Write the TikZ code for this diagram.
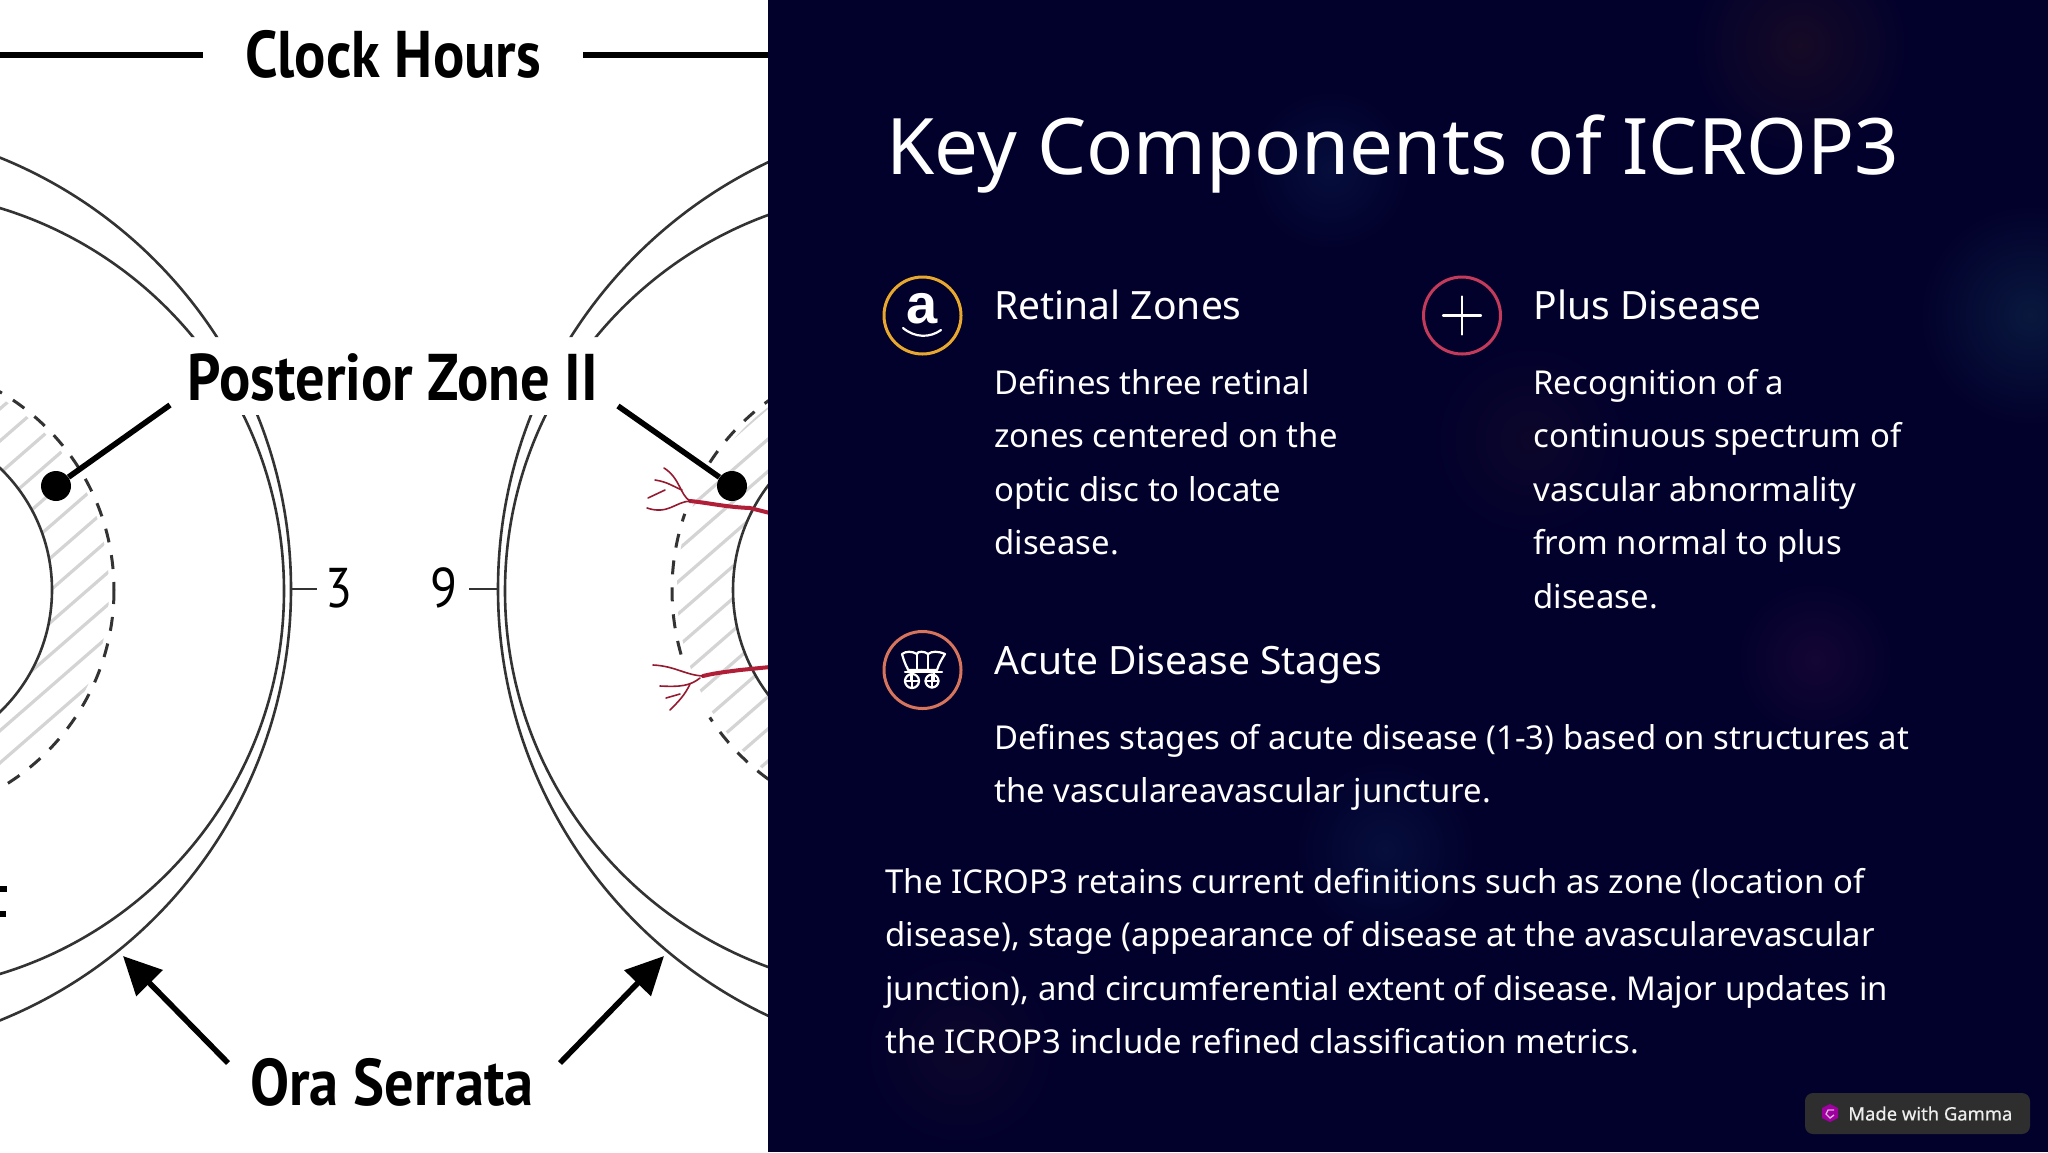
\documentclass[tikz,border=0pt]{standalone}
\usepackage{fontspec}
\setmainfont{Noto Sans}
\newfontfamily\diagfont[FakeStretch=0.885]{PT Sans}
\newfontfamily\iconfont{Liberation Sans}
\newfontfamily\badgefont[FakeBold=0.5]{Noto Sans}
\usetikzlibrary{arrows.meta}
\frenchspacing
\definecolor{panelnavy}{RGB}{2,1,44}
\definecolor{glowbrown}{RGB}{22,10,38}
\definecolor{glowblue}{RGB}{9,24,62}
\definecolor{glowpurple}{RGB}{20,5,52}
\definecolor{glowdeep}{RGB}{6,14,60}
\definecolor{glowdim}{RGB}{12,6,42}
\definecolor{vesselred}{RGB}{176,30,56}
\definecolor{hatchgray}{RGB}{212,212,212}
\definecolor{ringgold}{RGB}{232,168,46}
\definecolor{ringrose}{RGB}{196,58,90}
\definecolor{ringcoral}{RGB}{214,116,92}
\tikzset{
  eyeline/.style={line width=1.3pt,color=black!80},
  leaderline/.style={line width=2.8pt,color=black},
  hatchline/.style={line width=1.6pt,color=hatchgray},
  zonedash/.style={line width=1.5pt,color=black!80,dash pattern=on 7pt off 6.5pt},
  vesselmain/.style={line width=2pt,color=vesselred,line cap=round},
  vesseltip/.style={line width=0.8pt,color=vesselred!85!black,line cap=round},
  diaglabel/.style={font=\diagfont\bfseries\fontsize{33}{33}\selectfont,inner sep=0pt,anchor=base},
  hourlabel/.style={font=\diagfont\fontsize{28}{28}\selectfont,inner sep=0pt,anchor=base},
  headtext/.style={font=\fontsize{19.5}{24}\selectfont,color=white,inner sep=0pt,anchor=base west},
  bodytext/.style={font=\fontsize{16.44}{26.7}\selectfont,color=white,inner sep=0pt,anchor=north west,align=left},
  iconring/.style={circle,draw,line width=1.5pt,minimum size=38.5pt,inner sep=0pt},
  iconline/.style={line width=1.1pt,color=white,line cap=round,line join=round},
}
\begin{document}
\begin{tikzpicture}[x=0.5pt,y=-0.5pt]
\useasboundingbox (0,0) rectangle (2048,1152);
\fill[white] (0,0) rectangle (768,1152);

%Hatched zone, left eye
\begin{scope}
\clip (-115,590) circle (224);
\foreach \h in {14,51,...,1000} \draw[hatchline] (\h,300) -- ++(-600,522);
\end{scope}
\fill[white] (-117,590) circle (169);
\draw[eyeline] (-117,590) circle (169);
\draw[zonedash] (-115,590) circle (229);

%Hatched zone, right eye
\begin{scope}
\clip (906,590) circle (229);
\foreach \h in {891,928,...,1500} \draw[hatchline] (\h,300) -- ++(-600,522);
\end{scope}
\fill[white] (906,590) circle (173);
\draw[eyeline] (906,590) circle (173);
\draw[zonedash] plot[domain=126:147,samples=20] ({906+234*cos(\x)},{590+234*sin(\x)});
\draw[zonedash] plot[domain=164:199,samples=30] ({906+234*cos(\x)},{590+234*sin(\x)});
\draw[zonedash] plot[domain=213:236,samples=20] ({906+234*cos(\x)},{590+234*sin(\x)});

%Curve Lines, ora serrata and ring, broken behind the label
\begin{scope}
\clip (0,0) rectangle (768,337) (0,415) rectangle (768,1152);
\draw[eyeline] (-174,589) circle (465);
\draw[eyeline] (-116,591) circle (400);
\draw[eyeline] (970,589) circle (472);
\draw[eyeline] (905,591) circle (400);
\end{scope}

%Vessels, right eye
\draw[vesselmain] (770,513) -- (750,508) .. controls (725,507) and (710,503) .. (690,501);
\draw[vesseltip] (690,501) .. controls (675,502) and (668,515) .. (647,508);
\draw[vesseltip] (690,501) .. controls (680,495) and (680,478) .. (664,468);
\draw[vesseltip] (682,490) .. controls (672,486) and (668,482) .. (655,480);
\draw[vesseltip] (665,490) -- (648,498);
\draw[vesselmain] (770,667) -- (740,670) .. controls (725,672) and (715,673) .. (703,676);
\draw[vesseltip] (703,676) .. controls (685,675) and (675,666) .. (653,665);
\draw[vesseltip] (700,678) .. controls (690,686) and (680,687) .. (660,686);
\draw[vesseltip] (690,684) .. controls (685,695) and (678,702) .. (670,710);
\draw[vesseltip] (680,694) -- (666,698);

%Straight Lines, hour ticks and fragment at the edge
\draw[eyeline] (291,589) -- (317,589);
\draw[eyeline] (469,589) -- (497,589);
\draw[leaderline] (0,889) -- (7,889);
\draw[leaderline,line width=3pt] (0,914) -- (6,914);

% Text Node
\node[diaglabel] (clock) at (393,77) {Clock Hours};
\node[diaglabel] (zonetwo) at (393,400) {Posterior Zone II};
\node[diaglabel] (ora) at (392,1105) {Ora Serrata};
\node[hourlabel] (three) at (339,607) {3};
\node[hourlabel] (nine) at (444,607) {9};

%Straight Lines, rules beside the heading
\coordinate (ruleL) at (0,55);
\coordinate (ruleR) at (768,55);
\draw[leaderline] (ruleL) -- ([xshift=-21pt]clock.west |- ruleL);
\draw[leaderline] ([xshift=21pt]clock.east |- ruleR) -- (ruleR);

%Leaders with dots
\node[circle,fill=black,minimum size=15pt,inner sep=0pt] (dotL) at (56,486) {};
\node[circle,fill=black,minimum size=15pt,inner sep=0pt] (dotR) at (732,486) {};
\coordinate (leadL) at (170,405);
\coordinate (leadR) at (618,406);
\draw[leaderline] (leadL) -- (dotL);
\draw[leaderline] (leadR) -- (dotR);

%Arrows to the ora serrata
\coordinate (oraL) at (228,1063);
\coordinate (oraR) at (560,1063);
\coordinate (tipL) at (123,956);
\coordinate (tipR) at (664,956);
\draw[leaderline,-{Triangle[length=19pt,width=18pt]}] (oraL) -- (tipL);
\draw[leaderline,-{Triangle[length=19pt,width=18pt]}] (oraR) -- (tipR);

%Panel
\fill[panelnavy] (768,0) rectangle (2048,1152);
\shade[inner color=glowbrown,outer color=panelnavy] (1800,45) circle (110);
\shade[inner color=glowblue,outer color=panelnavy] (2030,315) circle (110);
\shade[inner color=glowpurple,outer color=panelnavy] (1815,660) circle (80);
\shade[inner color=glowdeep,outer color=panelnavy] (1385,850) circle (90);
\shade[inner color=glowdim,outer color=panelnavy] (1530,440) circle (100);
\shade[inner color=glowdeep,outer color=panelnavy] (1330,170) circle (80);
\shade[inner color=glowdim,outer color=panelnavy] (960,1050) circle (100);

% Text Node
\node[inner sep=0pt,anchor=base west,font=\fontsize{39}{48}\selectfont,color=white] (title) at (886,174) {Key Components of ICROP3};
\node[headtext] (zoneshead) at (994,319) {Retinal Zones};
\node[headtext] (plushead) at (1533,319) {Plus Disease};
\node[headtext] (acutehead) at (994,674) {Acute Disease Stages};
\node[bodytext] (zonesbody) at (994,369) {Defines three retinal\\zones centered on the\\optic disc to locate\\disease.};
\node[bodytext] (plusbody) at (1533,369) {Recognition of a\\continuous spectrum of\\vascular abnormality\\from normal to plus\\disease.};
\node[bodytext] (acutebody) at (994,724) {Defines stages of acute disease (1-3) based on structures at\\the vasculareavascular juncture.};
\node[bodytext] (summary) at (885,868) {The ICROP3 retains current definitions such as zone (location of\\disease), stage (appearance of disease at the avascularevascular\\junction), and circumferential extent of disease. Major updates in\\the ICROP3 include refined classification metrics.};

%Icons
\node[iconring,draw=ringgold] (ringzones) at (922.5,315.5) {};
\node[font=\iconfont\bfseries\fontsize{28}{28}\selectfont,color=white,inner sep=0pt] (amazon) at (922.5,309) {a};
\draw[iconline] (903,328) .. controls (915,338) and (930,338) .. (941,330);
\node[iconring,draw=ringrose] (ringplus) at (1462,315.5) {};
\draw[iconline] ([xshift=-9.5pt]ringplus.center) -- ([xshift=9.5pt]ringplus.center);
\draw[iconline] ([yshift=-9.5pt]ringplus.center) -- ([yshift=9.5pt]ringplus.center);
\node[iconring,draw=ringcoral] (ringacute) at (922.5,670) {};
\draw[iconline] (902,654) .. controls (906,668) and (908,668) .. (908,670) -- (937,670) .. controls (939,664) and (941,660) .. (945,654) .. controls (938,651) and (932,651) .. (928,654) .. controls (925,651) and (917,651) .. (917,654) .. controls (912,651) and (906,651) .. (902,654) -- cycle;
\draw[iconline] (917,654) -- (917,670);
\draw[iconline] (928,654) -- (928,670);
\draw[iconline] (905,672) -- (942,672);
\draw[iconline] (911,672) -- (911,681);
\draw[iconline] (934,672) -- (934,681);
\draw[iconline] (912,681) circle (7);
\draw[iconline] (905,681) -- (919,681);
\draw[iconline] (912,674) -- (912,688);
\draw[iconline] (932,681) circle (6.5);
\draw[iconline] (925.5,681) -- (938.5,681);
\draw[iconline] (932,674.5) -- (932,687.5);

%Badge
\node[fill=black!82,rounded corners=4pt,minimum width=112.5pt,minimum height=20.5pt,inner sep=0pt] (badge) at (1917.5,1113.5) {};
\node[font=\badgefont\fontsize{9.2}{12}\selectfont,color=white!93!black,inner sep=0pt,anchor=west] (badgetext) at (1848,1113.5) {Made with Gamma};
\fill[violet!75!magenta] (1830,1104) -- (1838,1108) -- (1838,1118) -- (1830,1122) -- (1822,1118) -- (1822,1108) -- cycle;
\draw[line width=0.7pt,color=white!70!violet] (1834,1110) -- (1828,1110) -- (1826,1114) -- (1830,1118) -- (1834,1115);
\end{tikzpicture}
\end{document}
